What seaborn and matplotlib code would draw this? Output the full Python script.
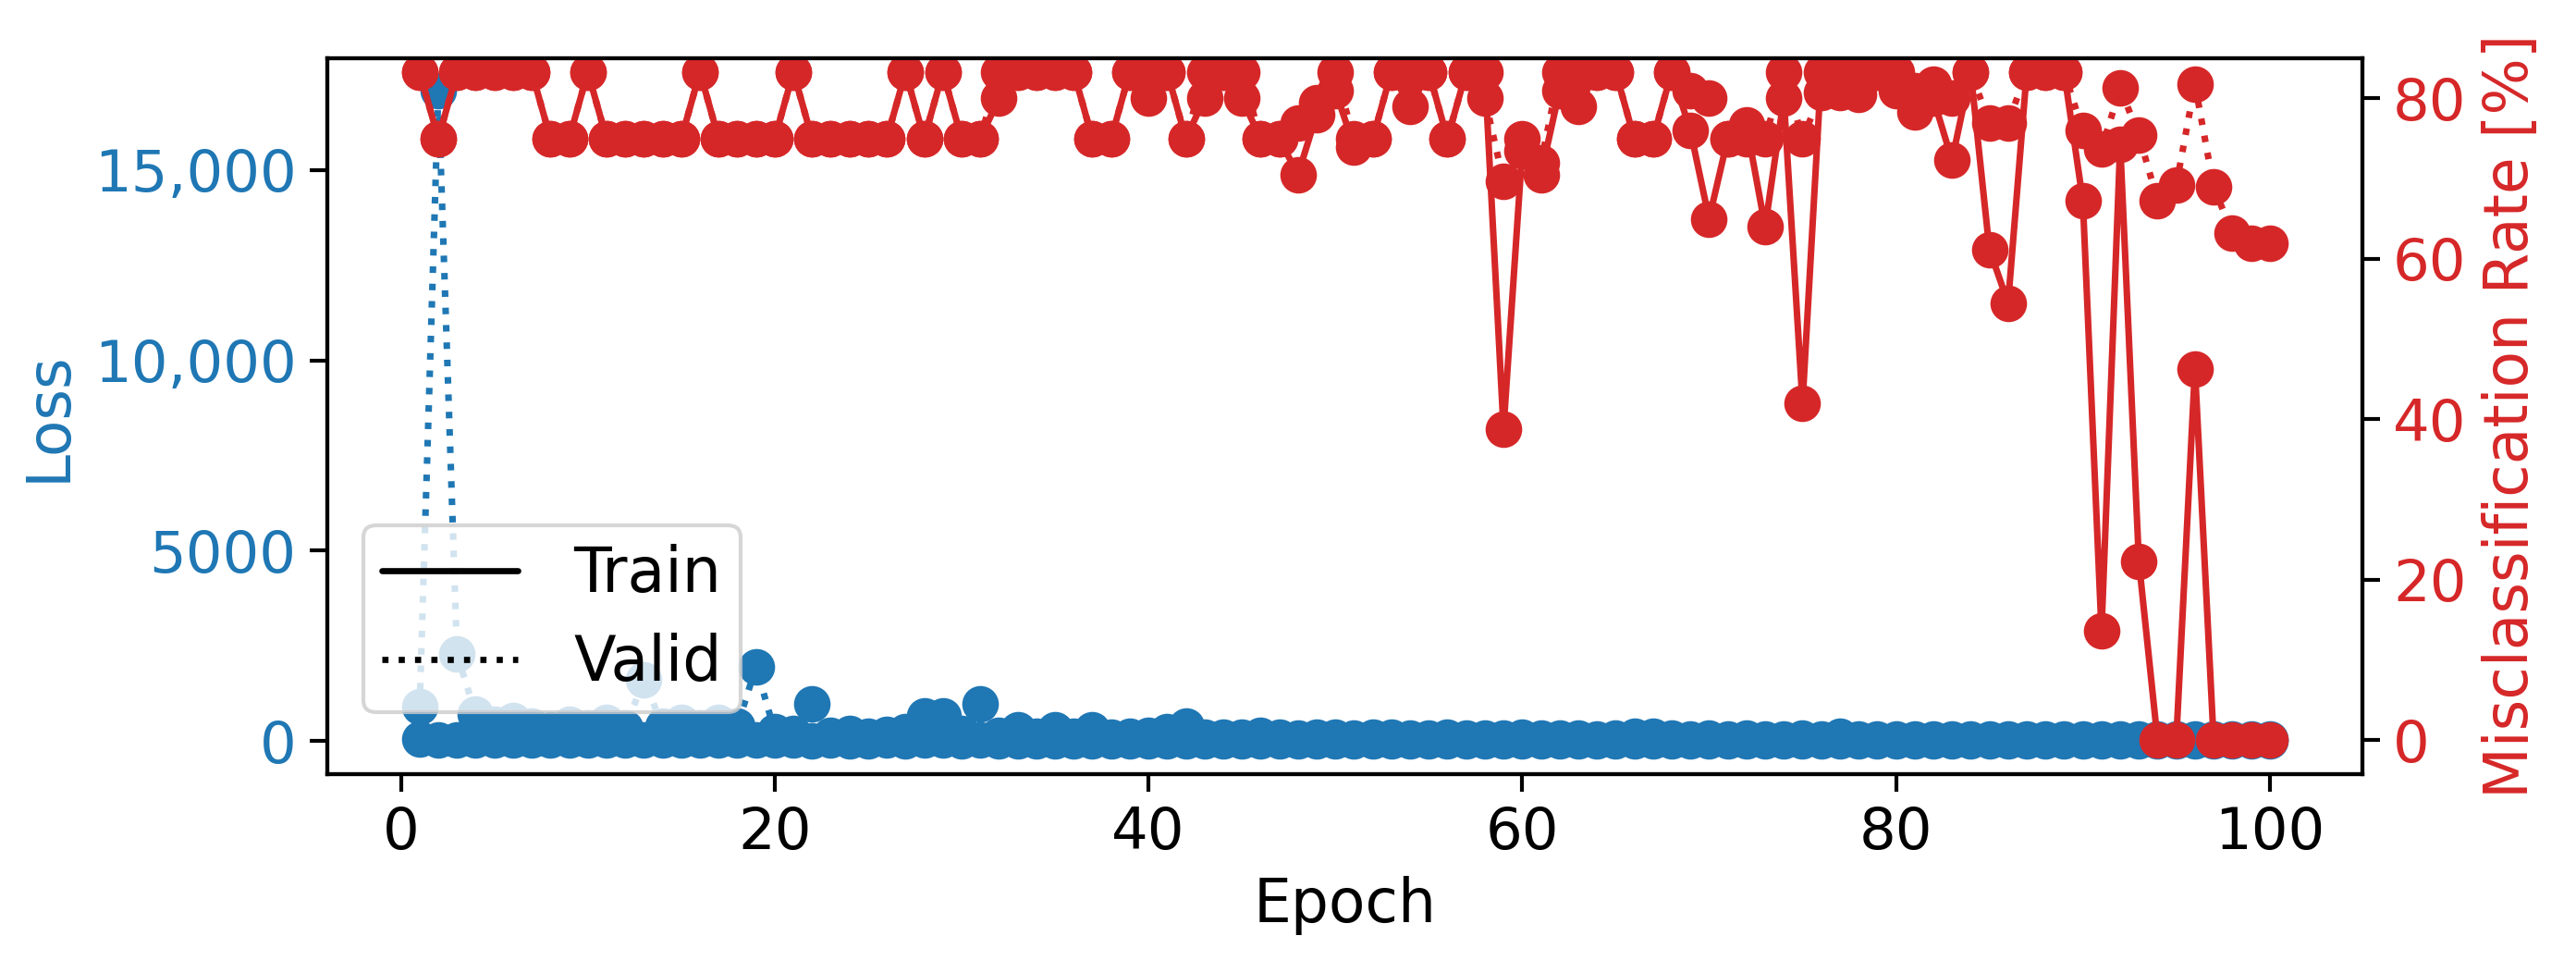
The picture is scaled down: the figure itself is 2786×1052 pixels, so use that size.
import pandas as pd
import matplotlib
matplotlib.use('Agg')
import matplotlib.pyplot as plt
import seaborn as sns
from matplotlib.lines import Line2D
from matplotlib.ticker import FixedLocator, FuncFormatter

# Data
epochs = list(range(1, 101))

loss_train = [60, 40, 35, 30, 28, 30, 25, 22, 26, 20,
              24, 20, 22, 18, 21, 19, 20, 18, 22, 17,
              18, 16, 17, 15, 16, 18, 15, 20, 18, 15,
              17, 14, 15, 13, 15, 14, 13, 12, 14, 12,
              13, 15, 12, 11, 12, 13, 11, 10, 12, 11,
              10, 12, 11, 10, 9, 11, 10, 9, 10, 11,
              9, 10, 9, 8, 10, 12, 11, 9, 8, 9,
              8, 9, 8, 7, 9, 8, 10, 8, 7, 8,
              7, 8, 7, 6, 8, 7, 6, 7, 6, 7,
              6, 7, 6, 5, 6, 7, 5, 6, 5, 6]

loss_valid = [900, 17080, 2280, 700, 450, 550, 400, 300, 450, 350,
              500, 350, 1600, 400, 500, 350, 500, 400, 1950, 250,
              200, 980, 150, 200, 120, 180, 250, 650, 650, 200,
              980, 150, 300, 120, 300, 120, 300, 100, 120, 150,
              250, 400, 100, 90, 110, 150, 90, 80, 100, 90,
              80, 90, 100, 80, 70, 90, 80, 70, 80, 90,
              70, 80, 70, 60, 80, 130, 130, 70, 60, 70,
              60, 70, 60, 55, 70, 60, 120, 60, 55, 60,
              55, 60, 55, 50, 60, 55, 50, 55, 50, 55,
              50, 55, 50, 45, 50, 55, 45, 50, 45, 50]

miscls_train = [83.3, 75, 83.3, 83.3, 83.3, 83.3, 83.3, 75, 75, 83.3,
                75, 75, 75, 75, 75, 83.3, 75, 75, 75, 75,
                83.3, 75, 75, 75, 75, 75, 83.3, 75, 83.3, 75,
                75, 80, 83.3, 83.3, 83.3, 83.3, 75, 75, 83.3, 80,
                83.3, 75, 80, 83.3, 80, 75, 75, 70.5, 78, 81,
                74, 75, 83.3, 79, 83.3, 75, 83.3, 83.3, 38.8, 73.5,
                70.5, 81, 79, 83.3, 83.3, 75, 75, 83.3, 76, 65,
                75, 76.7, 64, 80, 42, 83.3, 80.7, 80.5, 83.3, 83.3,
                78.3, 80, 72.3, 83.3, 61.2, 54.5, 83.3, 83.3, 83.3, 67.3,
                13.6, 74.3, 22.3, 0, 0, 46.3, 0, 0, 0, 0]

miscls_valid = [83.3, 75, 83.3, 83.3, 83.3, 83.3, 83.3, 75, 75, 83.3,
                75, 75, 75, 75, 75, 83.3, 75, 75, 75, 75,
                83.3, 75, 75, 75, 75, 75, 83.3, 75, 83.3, 75,
                75, 83.3, 83.3, 83.3, 83.3, 83.3, 75, 75, 83.3, 83.3,
                83.3, 75, 83.3, 83.3, 83.3, 75, 75, 77, 79.5, 83.3,
                75, 75, 83.3, 83.3, 83.3, 75, 83.3, 80, 69.7, 75,
                72, 83.3, 83.3, 83.3, 83.3, 75, 75, 83.3, 81, 80,
                75, 75, 75, 83.3, 75, 80.7, 83.3, 83.3, 83.3, 81,
                81, 81.8, 80, 83.3, 77, 77, 83.3, 83.3, 83.3, 76,
                73.7, 81.3, 75.4, 67.3, 69.2, 81.8, 69, 63.2, 62, 62]

loss_ticks = [0, 5000, 10000, 15000]

blue = '#1f77b4'
red = '#d62728'

sns.set_style('ticks')
plt.rcParams['font.family'] = ['DejaVu Sans']
plt.rcParams.update({
    'axes.edgecolor': 'black',
    'axes.linewidth': 1.0,
    'text.color': 'black',
    'axes.labelcolor': 'black',
    'xtick.color': 'black',
    'ytick.color': 'black',
    'xtick.major.size': 4.5,
    'ytick.major.size': 4.5,
    'xtick.major.width': 1.0,
    'ytick.major.width': 1.0,
})

df = pd.DataFrame({
    'epoch': epochs,
    'loss_train': loss_train,
    'loss_valid': loss_valid,
    'miscls_train': miscls_train,
    'miscls_valid': miscls_valid,
})

fig, ax = plt.subplots(figsize=(2786 / 300, 1052 / 300), dpi=300)
fig.subplots_adjust(left=0.127, right=0.917, bottom=0.204, top=0.940)

mk = dict(marker='o', markersize=9.5, markeredgewidth=0, linewidth=1.7)

# Loss (left axis)
sns.lineplot(data=df, x='epoch', y='loss_train', ax=ax, color=blue, **mk)
sns.lineplot(data=df, x='epoch', y='loss_valid', ax=ax, color=blue, linestyle=':', **mk)
ax.set_ylim(-880, 17930)
ax.yaxis.set_major_locator(FixedLocator(loss_ticks))
ax.yaxis.set_major_formatter(FuncFormatter(lambda v, p: f'{v:,.0f}' if v >= 10000 else f'{v:.0f}'))
ax.set_xlabel('Epoch', fontsize=15.5)
ax.set_ylabel('Loss', fontsize=15.5, color=blue)
ax.tick_params(axis='x', labelsize=15)
ax.tick_params(axis='y', labelsize=15, labelcolor=blue)

# Misclassification rate (right axis)
ax2 = ax.twinx()
sns.lineplot(data=df, x='epoch', y='miscls_train', ax=ax2, color=red, **mk)
sns.lineplot(data=df, x='epoch', y='miscls_valid', ax=ax2, color=red, linestyle=':', **mk)
ax2.set_ylim(-4.27, 85.0)
ax2.set_ylabel('Misclassification Rate [%]', fontsize=15.5, color=red)
ax2.tick_params(axis='y', labelsize=15, labelcolor=red)

handles = [Line2D([], [], color='black', linewidth=1.6, linestyle='-'),
           Line2D([], [], color='black', linewidth=1.6, linestyle=':')]
ax2.legend(handles, ['Train', 'Valid'], loc='lower left', bbox_to_anchor=(0.018, 0.087),
           borderaxespad=0, fontsize=16, handlelength=2.2, handletextpad=0.9,
           borderpad=0.3, labelspacing=0.45)

fig.savefig('out.png', dpi=300)
